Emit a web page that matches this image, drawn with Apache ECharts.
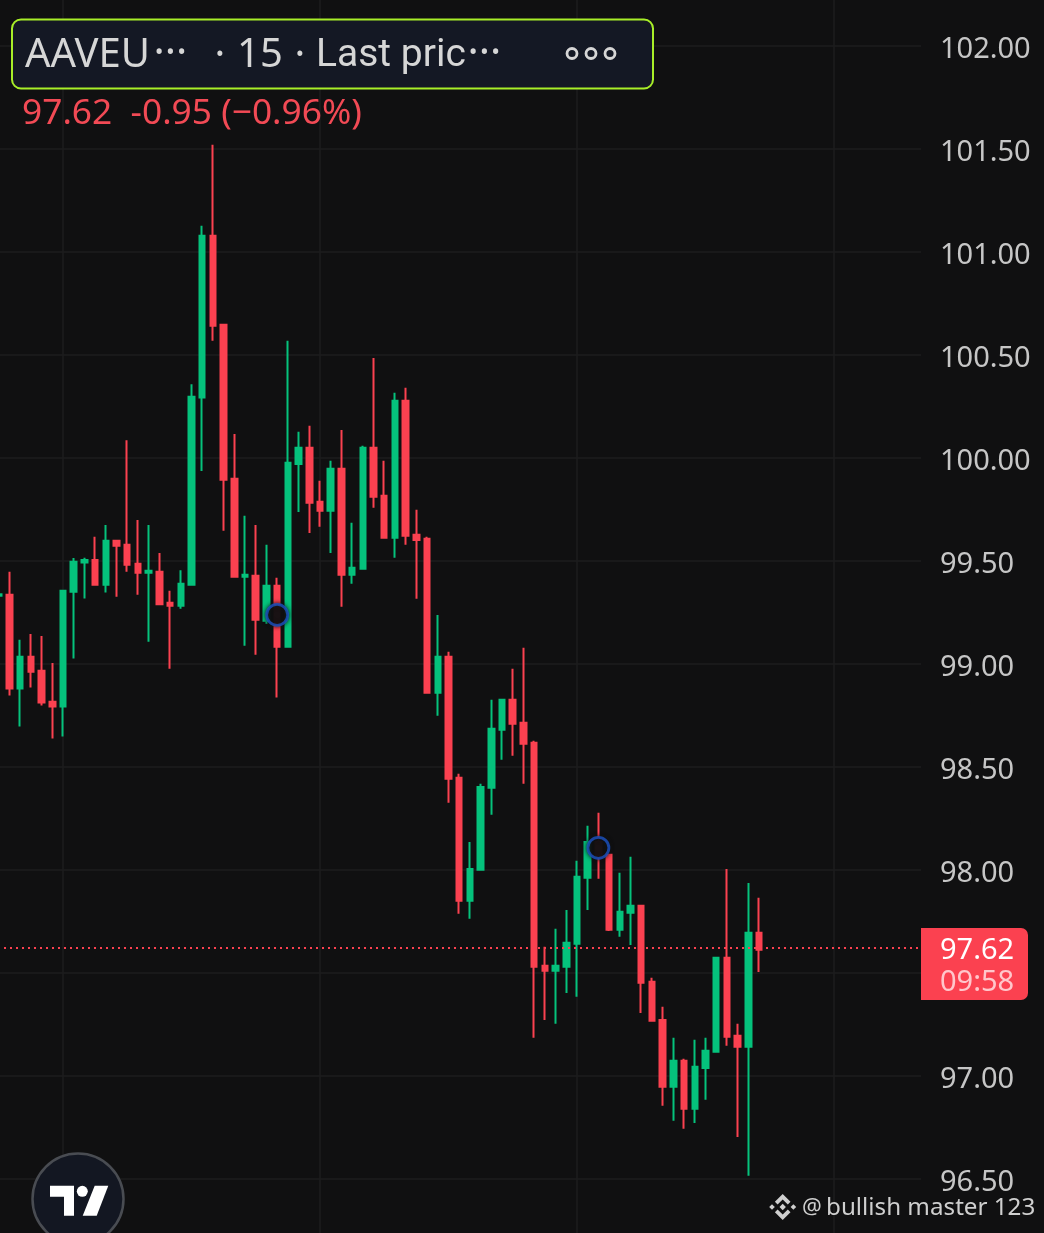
<!DOCTYPE html>
<html><head><meta charset="utf-8">
<style>html,body{margin:0;padding:0;background:#101011}#c{width:1044px;height:1233px}</style>
<script src="https://cdn.jsdelivr.net/npm/echarts@6/dist/echarts.min.js"></script>
</head><body><div id="c"></div>
<script>
const firstBar = 18;
const opens = [99.329,99.334,98.879,99.033,98.965,98.814,98.791,99.348,99.490,99.503,99.382,99.596,99.576,99.484,99.440,99.445,99.295,99.280,99.382,100.291,101.076,100.644,99.897,99.421,99.426,99.207,99.377,99.081,99.969,100.047,99.785,99.741,99.945,99.431,99.460,100.047,99.814,99.610,100.275,99.625,99.605,98.858,99.033,98.445,97.848,97.999,98.397,98.678,98.824,98.712,98.615,97.533,97.508,97.528,97.639,97.960,98.134,98.071,97.707,97.790,97.824,97.455,97.270,96.945,97.071,96.838,97.037,97.115,97.571,97.193,97.139,97.693];
const closes = [99.336,98.879,99.033,98.960,98.811,98.791,99.353,99.494,99.503,99.382,99.596,99.571,99.479,99.440,99.450,99.288,99.280,99.387,100.295,101.076,100.639,99.892,99.421,99.431,99.212,99.377,99.081,99.974,100.047,99.780,99.741,99.945,99.431,99.465,100.047,99.809,99.610,100.275,99.620,99.600,98.858,99.033,98.440,97.848,98.003,98.401,98.683,98.824,98.707,98.610,97.528,97.508,97.533,97.644,97.965,98.134,98.067,97.707,97.795,97.824,97.450,97.266,96.945,97.071,96.838,97.042,97.120,97.571,97.188,97.139,97.693,97.610];
const lows = [99.329,98.845,98.694,98.884,98.796,98.636,98.646,99.024,99.316,99.377,99.345,99.324,99.445,99.334,99.105,99.286,98.974,99.266,99.382,99.935,100.567,99.644,99.416,99.086,99.042,99.193,98.835,99.081,99.736,99.634,99.664,99.537,99.275,99.387,99.460,99.756,99.605,99.513,99.576,99.314,98.858,98.746,98.324,97.785,97.761,97.999,98.266,98.533,98.552,98.416,97.183,97.270,97.251,97.401,97.382,97.804,97.955,97.702,97.673,97.634,97.304,97.266,96.853,96.780,96.741,96.770,96.882,97.110,97.144,96.702,96.513,97.503];
const highs = [99.336,99.445,99.115,99.143,99.134,99.002,99.353,99.512,99.513,99.615,99.672,99.596,100.084,99.696,99.672,99.536,99.353,99.453,100.356,101.125,101.518,100.644,100.114,99.717,99.672,99.576,99.416,100.567,100.125,100.154,99.887,99.984,100.134,99.683,100.057,100.483,99.984,100.314,100.338,99.746,99.615,99.236,99.057,98.465,98.134,98.416,98.824,98.824,98.974,99.076,98.625,97.625,97.712,97.804,98.042,98.212,98.275,98.071,97.984,98.062,97.824,97.474,97.334,97.183,97.081,97.173,97.183,97.571,98.003,97.251,97.935,97.863];
const lastPrice = 97.62;
const signalBars = [44, 74];
const signalPrices = [99.236, 98.105];
const titleSymbol = 'AAVEU', titleMore = '\u00B7\u00B7\u00B7', titleDot = '\u00B7', titleInterval = '15', titleKind = 'Last pric';
const quoteText = '97.62  -0.95 (\u22120.96%)';
const badgeTop = '97.62', badgeBottom = '09:58';
const watermarkAt = '@', watermark = 'bullish master 123';

const FONT = '"Noto Sans", sans-serif';
const UP = '#05c27c', DOWN = '#fb4150', GRIDC = '#1d1d1e';
const candles = opens.map((o,k)=>[firstBar+k,o,closes[k],lows[k],highs[k]]);
const chart = echarts.init(document.getElementById('c'), null, {renderer:'canvas'});
const dia = (cx,cy,r)=>[[cx,cy-r],[cx+r,cy],[cx,cy+r],[cx-r,cy]];
const poly = (points,fill)=>({type:'polygon',shape:{points},style:{fill}});
const wm = '#cfcfcf';
const overlay = [
    {type:'rect',shape:{x:12,y:19.5,width:641,height:69,r:9},style:{fill:'#141824',stroke:'#a8ee28',lineWidth:2}},
    {type:'text',x:25,y:56,style:{text:titleSymbol,fill:'#d6d6d6',font:'40px '+FONT,verticalAlign:'middle'}},
    {type:'text',x:153.5,y:54,style:{text:titleMore,fill:'#d6d6d6',font:'42px '+FONT,verticalAlign:'middle'}},
    {type:'text',x:214.6,y:56,style:{text:titleDot,fill:'#d6d6d6',font:'40px '+FONT,verticalAlign:'middle'}},
    {type:'text',x:237,y:56,style:{text:titleInterval,fill:'#d6d6d6',font:'40px '+FONT,verticalAlign:'middle'}},
    {type:'text',x:294.6,y:56,style:{text:titleDot,fill:'#d6d6d6',font:'40px '+FONT,verticalAlign:'middle'}},
    {type:'text',x:316,y:56,style:{text:titleKind,fill:'#d6d6d6',font:'39px Roboto, sans-serif',verticalAlign:'middle'}},
    {type:'text',x:467.5,y:54,style:{text:titleMore,fill:'#d6d6d6',font:'42px '+FONT,verticalAlign:'middle'}},
    {type:'circle',shape:{cx:572,cy:53.5,r:5},style:{fill:'none',stroke:'#d6d6d6',lineWidth:2.8}},
    {type:'circle',shape:{cx:591,cy:53.5,r:5},style:{fill:'none',stroke:'#d6d6d6',lineWidth:2.8}},
    {type:'circle',shape:{cx:610,cy:53.5,r:5},style:{fill:'none',stroke:'#d6d6d6',lineWidth:2.8}},
    {type:'text',x:22,y:114,style:{text:quoteText,fill:'#f24a55',font:'35.3px '+FONT,verticalAlign:'middle'}},
    {type:'rect',shape:{x:921,y:928,width:107,height:72,r:[0,7,7,0]},style:{fill:'#fb4150'}},
    {type:'text',x:940,y:951,style:{text:badgeTop,fill:'#ffffff',font:'29px '+FONT,verticalAlign:'middle'}},
    {type:'text',x:940,y:983,style:{text:badgeBottom,fill:'#ffc6cb',font:'29px '+FONT,verticalAlign:'middle'}},
    {type:'circle',shape:{cx:78,cy:1199,r:45.5},style:{fill:'#131722',stroke:'#494c52',lineWidth:2.5}},
    poly([[50,1185.7],[74,1185.7],[74,1215.7],[64,1215.7],[64,1196.7],[50,1196.7]],'#ffffff'),
    {type:'circle',shape:{cx:82.3,cy:1191.3,r:5.5},style:{fill:'#ffffff'}},
    poly([[94.7,1185.7],[108.3,1185.7],[96.7,1215.7],[82.7,1215.7]],'#ffffff'),
    poly(dia(782.7,1207,3.2),wm),poly(dia(772,1207,2.8),wm),poly(dia(793.4,1207,2.8),wm),
    poly([[782.7,1194],[790.5,1201.8],[787.8,1204.4],[782.7,1199.4],[777.6,1204.4],[774.9,1201.8]],wm),
    poly([[782.7,1220],[790.5,1212.2],[787.8,1209.6],[782.7,1214.6],[777.6,1209.6],[774.9,1212.2]],wm),
    {type:'text',x:802,y:1208,style:{text:watermarkAt,fill:wm,font:'22px '+FONT,verticalAlign:'middle'}},
    {type:'text',x:826,y:1208,style:{text:watermark,fill:wm,font:'24.2px '+FONT,verticalAlign:'middle'}}
].map(e=>Object.assign(e,{z:100}));
chart.setOption({
  animation:false,
  backgroundColor:'#101011',
  grid:{left:-194,top:-57.5,width:1115,height:1339,containLabel:false,outerBoundsMode:'none'},
  xAxis:{type:'value',min:0,max:104.127,interval:24,
    axisLine:{show:false},axisTick:{show:false},axisLabel:{show:false},
    splitLine:{show:true,showMaxLine:false,showMinLine:false,lineStyle:{color:GRIDC,width:1.5}}},
  yAxis:{type:'value',position:'right',min:96,max:102.5,interval:0.5,
    axisLine:{show:false},axisTick:{show:false},
    axisLabel:{show:true,inside:false,margin:19,align:'left',verticalAlign:'top',lineHeight:8,color:'#c6c6c6',fontFamily:FONT,fontSize:29,
      showMinLabel:true,showMaxLabel:true,formatter:v=>v.toFixed(2)},
    splitLine:{show:true,lineStyle:{color:GRIDC,width:1.5}}},
  series:[
    {type:'candlestick',data:candles,barWidth:6,
      itemStyle:{color:UP,color0:DOWN,borderColor:UP,borderColor0:DOWN,borderWidth:2},
      markLine:{silent:true,symbol:'none',animation:false,label:{show:false},
        lineStyle:{color:DOWN,type:[2,4],width:2,opacity:1},data:[{yAxis:lastPrice}]}},
    {type:'scatter',data:signalBars.map((b,k)=>[b,signalPrices[k]]),symbol:'circle',symbolSize:21,z:5,
      itemStyle:{color:'#101011',borderColor:'#1c52c4',borderWidth:2.8,shadowColor:'#101011',shadowBlur:4}}
  ],
  graphic:overlay
});
</script></body></html>
